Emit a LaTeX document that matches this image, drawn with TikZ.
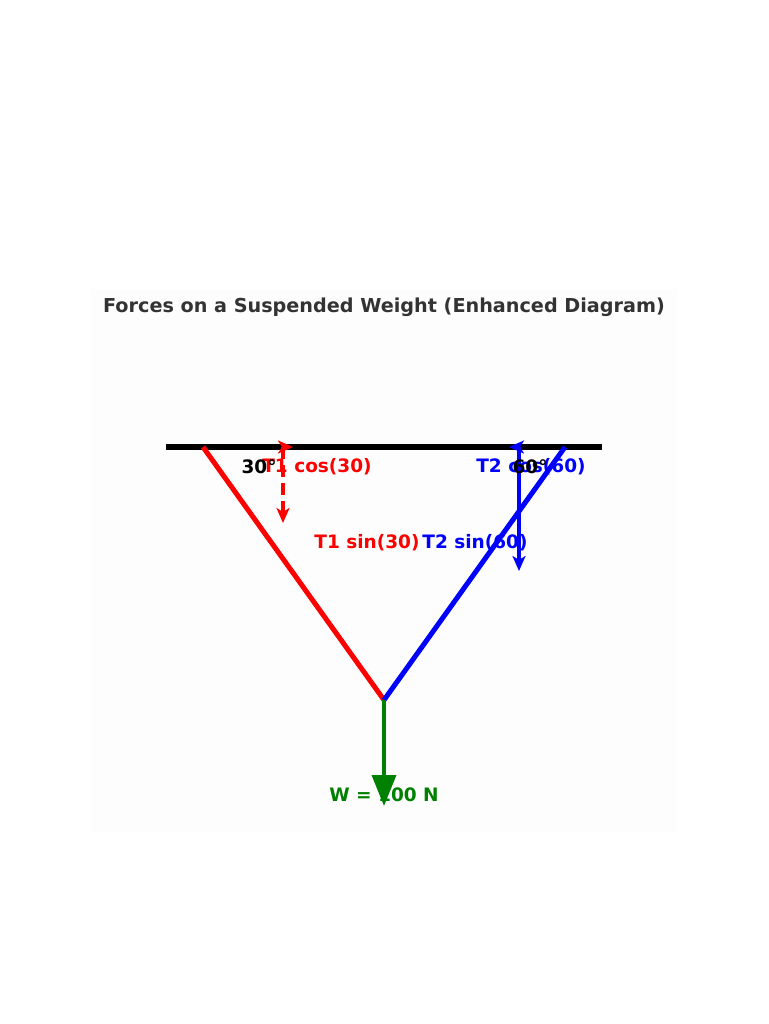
\documentclass[tikz,border=0pt]{standalone}
\usepackage{fontspec}
\setmainfont{DejaVu Sans}
\usetikzlibrary{arrows.meta}
\definecolor{wgreen}{RGB}{0,128,0}
\definecolor{titlegray}{RGB}{51,51,51}
\begin{document}
\begin{tikzpicture}[x=1pt, y=-1pt,
	lbl/.style={font=\fontsize{18.5}{20}\selectfont\bfseries, inner sep=0pt},
	comp/.style={line width=3.5pt, -{Stealth[length=15pt, width=13pt, inset=4pt]}}]
		
		\useasboundingbox (0,0) rectangle (768,1024);
		\fill[black!0.8] (91,289) rectangle (677,832);
		
		\node[font=\fontsize{19.2}{22}\selectfont\bfseries, text=titlegray] (title) at (384,307) {Forces on a Suspended Weight (Enhanced Diagram)};
		
		\coordinate (L) at (166,447);
		\coordinate (R) at (602,447);
		\coordinate (A) at (203,447);
		\coordinate (B) at (565,447);
		\coordinate (K) at (384,700);
		\coordinate (W) at (384,806);
		
		\coordinate (T1o) at (283,447);
		\coordinate (T1h) at (293,447);
		\coordinate (T1v) at (283,523);
		\coordinate (T2o) at (519,447);
		\coordinate (T2h) at (509,447);
		\coordinate (T2v) at (519,571);
		
		\draw[line width=6pt] (L) -- (R);
		\draw[red, line width=5pt] (A) -- (K);
		\draw[blue, line width=5pt] (B) -- (K);
		
		\draw[comp, red] (T1o) -- (T1h);
		\draw[comp, blue] (T2o) -- (T2h);
		\draw[comp, red, dash pattern=on 12pt off 6pt] (T1o) -- (T1v);
		\draw[comp, blue] (T2o) -- (T2v);
		
		\node[lbl, text=red] (t1c) at (317,467) {T1 cos(30)};
		\node[lbl] (a1) at (259,467) {30°};
		\node[lbl, text=blue] (t2c) at (531,467) {T2 cos(60)};
		\node[lbl] (a2) at (530,467) {60°};
		\node[lbl, text=red] (t1s) at (367,543) {T1 sin(30)};
		\node[lbl, text=blue] (t2s) at (475,543) {T2 sin(60)};
		\node[lbl, text=wgreen] (wl) at (384,795) {W = 100 N};
		
		\draw[wgreen, line width=3.5pt, -{Triangle[length=31pt, width=24pt]}] (K) -- (W);
	\end{tikzpicture}
\end{document}
